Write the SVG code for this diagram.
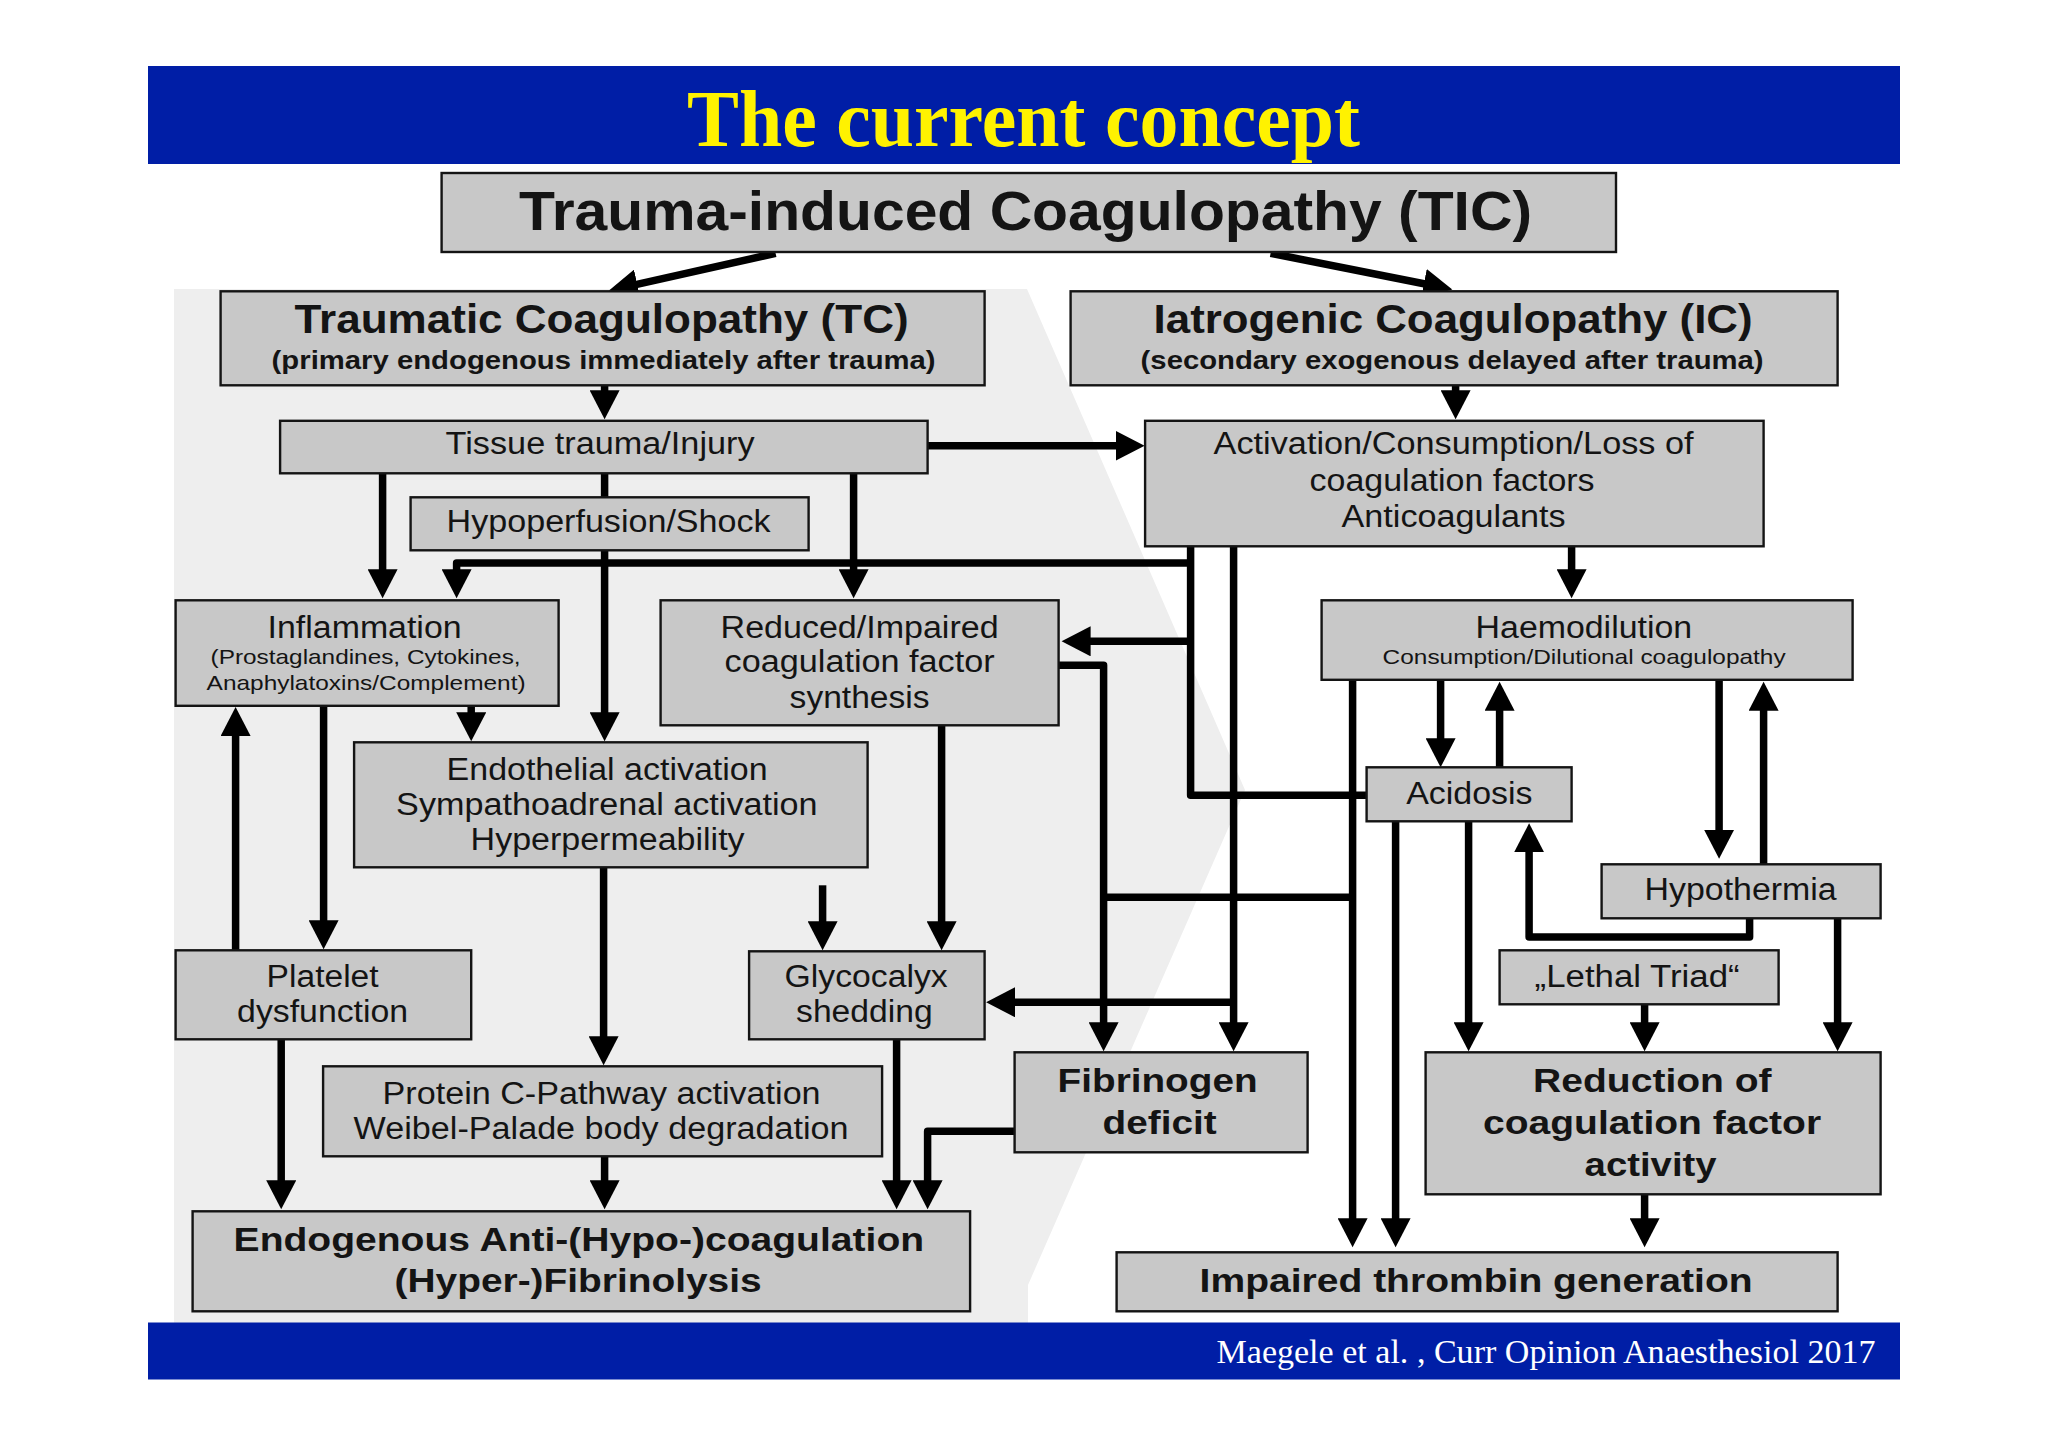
<svg xmlns="http://www.w3.org/2000/svg" width="2048" height="1447" viewBox="0 0 2048 1447">
<style>
text{font-family:"Liberation Sans",Arial,sans-serif;fill:#141414}
.n rect{fill:#c8c8c8;stroke:#141414;stroke-width:2.4}
.s31{font-size:31px}.s21{font-size:21px}
.s25{font-size:26px;font-weight:700}.s38{font-size:41px;font-weight:700}.s52{font-size:56px;font-weight:700}.b31{font-size:33px;font-weight:700}
.banner{fill:#001ea6}
.c path{fill:none;stroke:#000;stroke-width:7.5;stroke-linejoin:round}
.c path.m{marker-end:url(#a)}
</style>
<defs>
<marker id="a" markerUnits="userSpaceOnUse" markerWidth="30" markerHeight="30" refX="13" refY="15" orient="auto"><path d="M0,0L29,15L0,30z" fill="#000"/></marker>
</defs>
<rect width="2048" height="1447" fill="#fff"/>
<polygon points="174,289 1027,289 1245,790 1028,1285 1028,1323 174,1323" fill="#eeeeee"/>
<g id="header"><rect class="banner" x="148" y="66" width="1752" height="98"/>
<text x="687" y="146" textLength="673" lengthAdjust="spacingAndGlyphs" style="font-family:'Liberation Serif',serif;font-weight:700;font-size:80px;fill:#fff200">The current concept</text></g>
<g id="footer"><rect class="banner" x="148" y="1322.5" width="1752" height="57"/>
<text x="1216.5" y="1362.5" textLength="659" lengthAdjust="spacingAndGlyphs" style="font-family:'Liberation Serif',serif;font-size:34px;fill:#fff">Maegele et al. , Curr Opinion Anaesthesiol 2017</text></g>
<g id="diagram" transform="translate(0.6,1.3)">
<g id="connectors" class="c">
<path class="m" d="M775,252L624,285.8"/>
<path class="m" d="M1270,252L1436,285"/>
<path class="m" d="M604,384V402"/>
<path class="m" d="M1455,384V402"/>
<path class="m" d="M927,444.5H1128"/>
<path class="m" d="M382,472V581"/>
<path d="M604,472V496"/>
<path class="m" d="M604,549V724"/>
<path class="m" d="M853,472V581"/>
<path class="m" d="M1190,561.6H456V581"/>
<path d="M1190,545V794H1366"/>
<path class="m" d="M1190,640H1077"/>
<path class="m" d="M1233,545V1034"/>
<path class="m" d="M1233,1001H1001.5"/>
<path class="m" d="M1058,664H1103V1034"/>
<path class="m" d="M1352,678V1230"/>
<path d="M1352,896H1103"/>
<path class="m" d="M1395,820V1230"/>
<path class="m" d="M1440,678V750"/>
<path class="m" d="M1499,766V696.5"/>
<path class="m" d="M1718.5,678V841.5"/>
<path class="m" d="M1763,863V696.5"/>
<path class="m" d="M1749,917V935.6H1528.5V838"/>
<path class="m" d="M1837,917V1034"/>
<path class="m" d="M1468,820V1034"/>
<path class="m" d="M1644,1003V1034"/>
<path class="m" d="M1644,1193V1230"/>
<path class="m" d="M1571,545V581"/>
<path class="m" d="M470.6,704V724"/>
<path class="m" d="M235,949V721.6"/>
<path class="m" d="M323,704V932"/>
<path class="m" d="M603,866V1048"/>
<path class="m" d="M822,884V933"/>
<path class="m" d="M941,724V933"/>
<path class="m" d="M280.6,1038V1192"/>
<path class="m" d="M604,1155V1192"/>
<path class="m" d="M896,1038V1192"/>
<path class="m" d="M1014,1130H927V1192"/>
</g>
<g id="tc" class="n"><rect x="220" y="290" width="764" height="94"/><text class="s38" x="294" y="332" textLength="614" lengthAdjust="spacingAndGlyphs">Traumatic Coagulopathy (TC)</text><text class="s25" x="271" y="368" textLength="664" lengthAdjust="spacingAndGlyphs">(primary endogenous immediately after trauma)</text></g>
<g id="ic" class="n"><rect x="1070" y="290" width="767" height="94"/><text class="s38" x="1153" y="332" textLength="599" lengthAdjust="spacingAndGlyphs">Iatrogenic Coagulopathy (IC)</text><text class="s25" x="1140" y="368" textLength="623" lengthAdjust="spacingAndGlyphs">(secondary exogenous delayed after trauma)</text></g>
<g id="tissue" class="n"><rect x="279.5" y="419.5" width="647.5" height="52.5"/><text class="s31" x="445" y="453" textLength="309" lengthAdjust="spacingAndGlyphs">Tissue trauma/Injury</text></g>
<g id="hypoperfusion" class="n"><rect x="410" y="496" width="398" height="53"/><text class="s31" x="446" y="531" textLength="324" lengthAdjust="spacingAndGlyphs">Hypoperfusion/Shock</text></g>
<g id="activation" class="n"><rect x="1144.5" y="419.5" width="618.5" height="125.5"/><text class="s31" x="1213" y="453" textLength="480" lengthAdjust="spacingAndGlyphs">Activation/Consumption/Loss of</text><text class="s31" x="1309" y="490" textLength="285" lengthAdjust="spacingAndGlyphs">coagulation factors</text><text class="s31" x="1341" y="526" textLength="224" lengthAdjust="spacingAndGlyphs">Anticoagulants</text></g>
<g id="inflammation" class="n"><rect x="175" y="599" width="383" height="105.5"/><text class="s31" x="267" y="637" textLength="194" lengthAdjust="spacingAndGlyphs">Inflammation</text><text class="s21" x="210" y="663" textLength="310" lengthAdjust="spacingAndGlyphs">(Prostaglandines, Cytokines,</text><text class="s21" x="206" y="689" textLength="319" lengthAdjust="spacingAndGlyphs">Anaphylatoxins/Complement)</text></g>
<g id="reduced" class="n"><rect x="660" y="599" width="398" height="125"/><text class="s31" x="720" y="637" textLength="278" lengthAdjust="spacingAndGlyphs">Reduced/Impaired</text><text class="s31" x="724" y="671" textLength="270" lengthAdjust="spacingAndGlyphs">coagulation factor</text><text class="s31" x="789" y="707" textLength="140" lengthAdjust="spacingAndGlyphs">synthesis</text></g>
<g id="haemodilution" class="n"><rect x="1321" y="599" width="531" height="79.5"/><text class="s31" x="1475" y="637" textLength="216.5" lengthAdjust="spacingAndGlyphs">Haemodilution</text><text class="s21" x="1382" y="663" textLength="403" lengthAdjust="spacingAndGlyphs">Consumption/Dilutional coagulopathy</text></g>
<g id="endothelial" class="n"><rect x="353.5" y="741" width="513.5" height="125"/><text class="s31" x="446" y="778.5" textLength="321" lengthAdjust="spacingAndGlyphs">Endothelial activation</text><text class="s31" x="395.5" y="814" textLength="421.5" lengthAdjust="spacingAndGlyphs">Sympathoadrenal activation</text><text class="s31" x="470" y="849" textLength="274" lengthAdjust="spacingAndGlyphs">Hyperpermeability</text></g>
<g id="acidosis" class="n"><rect x="1366" y="766" width="205" height="54"/><text class="s31" x="1405.6" y="803" textLength="126.4" lengthAdjust="spacingAndGlyphs">Acidosis</text></g>
<g id="hypothermia" class="n"><rect x="1601" y="863" width="279" height="54"/><text class="s31" x="1644" y="899" textLength="192" lengthAdjust="spacingAndGlyphs">Hypothermia</text></g>
<g id="platelet" class="n"><rect x="175" y="949" width="295.6" height="89"/><text class="s31" x="266" y="986" textLength="112" lengthAdjust="spacingAndGlyphs">Platelet</text><text class="s31" x="236.5" y="1021" textLength="171" lengthAdjust="spacingAndGlyphs">dysfunction</text></g>
<g id="glycocalyx" class="n"><rect x="748.5" y="950" width="235.5" height="88"/><text class="s31" x="784" y="986" textLength="163" lengthAdjust="spacingAndGlyphs">Glycocalyx</text><text class="s31" x="795.5" y="1021" textLength="136.5" lengthAdjust="spacingAndGlyphs">shedding</text></g>
<g id="lethal" class="n"><rect x="1499" y="949" width="279" height="54"/><text class="s31" x="1534" y="986" textLength="205" lengthAdjust="spacingAndGlyphs">„Lethal Triad“</text></g>
<g id="fibrinogen" class="n"><rect x="1014" y="1051" width="293" height="100"/><text class="b31" x="1057" y="1091" textLength="200" lengthAdjust="spacingAndGlyphs">Fibrinogen</text><text class="b31" x="1102" y="1133" textLength="114" lengthAdjust="spacingAndGlyphs">deficit</text></g>
<g id="reduction" class="n"><rect x="1425" y="1051" width="455" height="142"/><text class="b31" x="1532.5" y="1091" textLength="238.5" lengthAdjust="spacingAndGlyphs">Reduction of</text><text class="b31" x="1482.5" y="1133" textLength="338" lengthAdjust="spacingAndGlyphs">coagulation factor</text><text class="b31" x="1584" y="1175" textLength="132" lengthAdjust="spacingAndGlyphs">activity</text></g>
<g id="protein" class="n"><rect x="322.5" y="1065" width="559" height="90"/><text class="s31" x="382" y="1103" textLength="438" lengthAdjust="spacingAndGlyphs">Protein C-Pathway activation</text><text class="s31" x="353" y="1138" textLength="495" lengthAdjust="spacingAndGlyphs">Weibel-Palade body degradation</text></g>
<g id="endogenous" class="n"><rect x="192" y="1210" width="777.5" height="100"/><text class="b31" x="233" y="1250" textLength="690.5" lengthAdjust="spacingAndGlyphs">Endogenous Anti-(Hypo-)coagulation</text><text class="b31" x="394" y="1291" textLength="367" lengthAdjust="spacingAndGlyphs">(Hyper-)Fibrinolysis</text></g>
<g id="impaired" class="n"><rect x="1116" y="1251" width="721" height="59"/><text class="b31" x="1199" y="1291" textLength="553" lengthAdjust="spacingAndGlyphs">Impaired thrombin generation</text></g>
</g>
<g id="tic" class="n"><rect x="441.6" y="173" width="1174.4" height="79"/><text class="s52" x="519" y="230" textLength="1013" lengthAdjust="spacingAndGlyphs">Trauma-induced Coagulopathy (TIC)</text></g>
</svg>
